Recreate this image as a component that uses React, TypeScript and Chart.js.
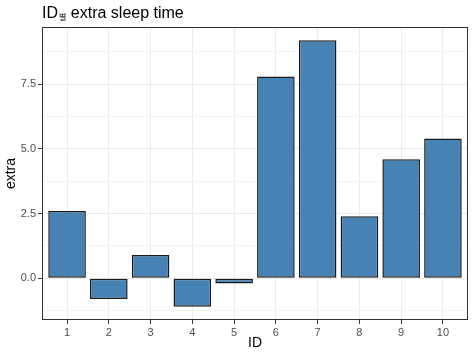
import React, { useEffect, useRef } from "react";
import { Chart, registerables } from "chart.js";

Chart.register(...registerables);

const ids = [1, 2, 3, 4, 5, 6, 7, 8, 9, 10];
const extra = [2.6, -0.8, 0.9, -1.1, -0.2, 7.8, 9.2, 2.4, 4.6, 5.4];
const yMajorTicks = [0, 2.5, 5, 7.5];
const yMinorTicks = [-1.25, 1.25, 3.75, 6.25, 8.75];
const titleParts = ["ID", "별", " extra sleep time"];

const FONT = "'Liberation Sans', Arial, sans-serif";
const KFONT = "'Noto Sans CJK KR', sans-serif";

const panelPlugin = {
  id: "panelDecor",
  afterDatasetsDraw(chart: any) {
    const { ctx, chartArea } = chart;
    ctx.save();
    ctx.strokeStyle = "#333333";
    ctx.lineWidth = 1;
    ctx.strokeRect(
      Math.round(chartArea.left) + 0.5,
      Math.round(chartArea.top) + 0.5,
      Math.round(chartArea.right - chartArea.left) - 1,
      Math.round(chartArea.bottom - chartArea.top) - 1
    );
    // title, aligned to the panel's left edge as in ggplot
    let x = Math.round(chartArea.left);
    const base = 18;
    ctx.fillStyle = "#000000";
    ctx.textBaseline = "alphabetic";
    ctx.textAlign = "left";
    ctx.font = `16px ${FONT}`;
    ctx.fillText(titleParts[0], x, base);
    x += ctx.measureText(titleParts[0]).width + 1;
    ctx.font = `8px ${KFONT}`;
    ctx.fillText(titleParts[1], x, base + 2);
    x += ctx.measureText(titleParts[1]).width;
    ctx.font = `16px ${FONT}`;
    ctx.fillText(titleParts[2], x, base);
    ctx.restore();
  },
};

export default function App() {
  const ref = useRef<HTMLCanvasElement>(null);
  useEffect(() => {
    document.body.style.margin = "0";
    const yAll = [...yMinorTicks, ...yMajorTicks].sort((a, b) => a - b);
    const isMajor = (v: number) => yMajorTicks.includes(v);
    const chart = new Chart(ref.current!, {
      type: "bar",
      data: {
        datasets: [
          {
            data: ids.map((id, i) => ({ x: id, y: extra[i] })),
            backgroundColor: "#4682B4",
            borderColor: "#1a1a1a",
            borderWidth: 1.5,
            borderSkipped: false,
            barPercentage: 0.9,
            categoryPercentage: 1,
          },
        ],
      },
      options: {
        animation: false,
        responsive: false,
        layout: { padding: { left: 0, right: 6, top: 27, bottom: 0 } },
        plugins: {
          legend: { display: false },
          tooltip: { enabled: false },
          title: { display: false },
        },
        scales: {
          x: {
            type: "linear",
            offset: false,
            min: 0.4,
            max: 10.6,
            afterBuildTicks(scale: any) {
              scale.ticks = ids.map((v) => ({ value: v }));
            },
            afterFit(scale: any) {
              scale.height = 40;
            },
            grid: {
              offset: false,
              color: "#ebebeb",
              lineWidth: 1,
              tickLength: 4,
              tickColor: "#333333",
              drawOnChartArea: true,
            },
            border: { display: false },
            ticks: {
              color: "#4d4d4d",
              font: { family: FONT, size: 11 },
              padding: 2,
              maxRotation: 0,
              autoSkip: false,
              callback: (v: any) => String(v),
            },
            title: {
              display: true,
              text: "ID",
              color: "#000000",
              font: { family: FONT, size: 14 },
              padding: { top: 0, bottom: 8 },
            },
          },
          y: {
            type: "linear",
            min: -1.615,
            max: 9.715,
            afterBuildTicks(scale: any) {
              scale.ticks = yAll.map((v) => ({ value: v }));
            },
            afterFit(scale: any) {
              scale.width = 42;
            },
            grid: {
              color: (c: any) => (isMajor(c.tick?.value) ? "#ebebeb" : "#f4f4f4"),
              lineWidth: 1,
              tickLength: 4,
              tickColor: (c: any) => (isMajor(c.tick?.value) ? "#333333" : "rgba(0,0,0,0)"),
            },
            border: { display: false },
            ticks: {
              color: "#4d4d4d",
              font: { family: FONT, size: 11 },
              padding: 2,
              autoSkip: false,
              callback: (v: any) => (isMajor(Number(v)) ? Number(v).toFixed(1) : ""),
            },
            title: {
              display: true,
              text: "extra",
              color: "#000000",
              font: { family: FONT, size: 14 },
              padding: { top: 3, bottom: 0 },
            },
          },
        },
      },
      plugins: [panelPlugin],
    } as any);
    return () => chart.destroy();
  }, []);
  return <canvas ref={ref} width={474} height={360} />;
}
